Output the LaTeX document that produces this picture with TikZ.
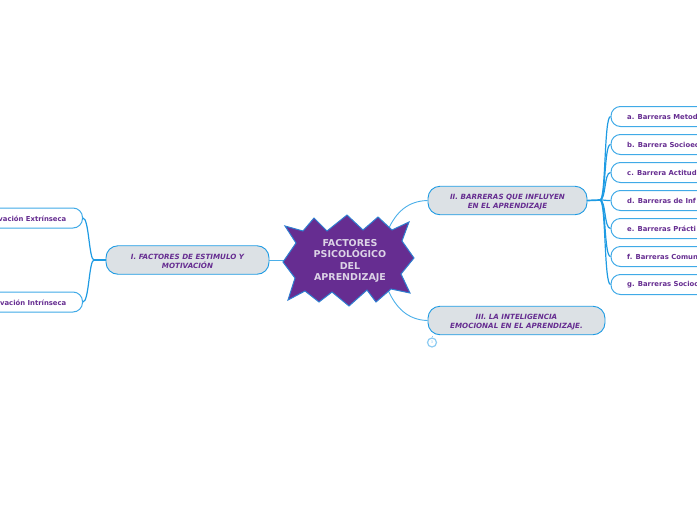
\documentclass[tikz,border=0pt]{standalone}
\usepackage{fontspec}
\setmainfont{DejaVu Sans}
\definecolor{linkblue}{HTML}{1E9BE3}
\definecolor{softblue}{HTML}{8CCBF2}
\definecolor{deeppurple}{HTML}{662D91}
\definecolor{nodegrey}{HTML}{DCE1E5}
\definecolor{starline}{HTML}{2F7FD0}
\definecolor{startext}{HTML}{DCD3E6}
\tikzset{
  mainbox/.style={draw=linkblue,line width=0.9pt,fill=nodegrey,rounded corners=12pt,minimum height=28.5pt,inner sep=0pt},
  maintext/.style={text=deeppurple,align=center,inner sep=0pt,font=\fontsize{7.15}{9}\selectfont\bfseries\itshape},
  leafbox/.style={draw=linkblue!85!white,line width=1pt,fill=white,rounded corners=9.5pt,minimum height=20pt,inner sep=0pt},
  leaftext/.style={text=deeppurple,inner sep=0pt,font=\fontsize{6.85}{8}\selectfont\bfseries},
  trunk/.style={draw=linkblue,line width=1.7pt,line cap=round},
  branch/.style={draw=linkblue,line width=1.2pt},
  thinlink/.style={draw=linkblue!80!white,line width=0.9pt},
}
\begin{document}
\begin{tikzpicture}[x=1pt,y=-1pt]
\useasboundingbox (0,0) rectangle (697,520);
\clip (0,0) rectangle (697,520);
% anchors
\coordinate (starW) at (290,260);
\coordinate (starNE) at (388,230);
\coordinate (starSE) at (388,290);
\coordinate (junctionL) at (94,260);
\coordinate (junctionR) at (600,200);
% main nodes
\node[mainbox,minimum width=163pt] (one) at (187.5,260) {};
\node[mainbox,minimum width=159pt] (two) at (507.5,200.5) {};
\node[mainbox,minimum width=177pt] (three) at (516.5,320.5) {};
\node[maintext] (tone) at (187.5,261.2) {I. FACTORES DE ESTIMULO Y\\MOTIVACIÓN};
\node[maintext] (ttwo) at (507.5,201.7) {II. BARRERAS QUE INFLUYEN\\EN EL APRENDIZAJE};
\node[maintext] (tthree) at (516.5,321.7) {III. LA INTELIGENCIA\\EMOCIONAL EN EL APRENDIZAJE.};
% leaf boxes
\node[leafbox,minimum width=112pt] (lext) at (26.5,218) {};
\node[leafbox,minimum width=112pt] (lint) at (26.5,302) {};
\node[leafbox,minimum width=120pt] (ra) at (671,116.5) {};
\node[leafbox,minimum width=120pt] (rb) at (671,144.5) {};
\node[leafbox,minimum width=120pt] (rc) at (671,172.5) {};
\node[leafbox,minimum width=120pt] (rd) at (671,200.5) {};
\node[leafbox,minimum width=120pt] (re) at (671,228.5) {};
\node[leafbox,minimum width=120pt] (rf) at (671,256.5) {};
\node[leafbox,minimum width=120pt] (rg) at (671,284.5) {};
% leaf text
\node[leaftext,anchor=east] (tlext) at (66.5,218.5) {vación Extrínseca};
\node[leaftext,anchor=east] (tlint) at (66.5,302.5) {vación Intrínseca};
\node[leaftext,anchor=west] (tra) at (627,117) {a. Barreras Metod};
\node[leaftext,anchor=west] (trb) at (627,145) {b. Barrera Socioec};
\node[leaftext,anchor=west] (trc) at (627,173) {c. Barrera Actitud};
\node[leaftext,anchor=west] (trd) at (627,201) {d. Barreras de Inf};
\node[leaftext,anchor=west] (tre) at (627,229) {e. Barreras Prácti};
\node[leaftext,anchor=west] (trf) at (627,257) {f. Barreras Comun};
\node[leaftext,anchor=west] (trg) at (627,285) {g. Barreras Socioc};
% connectors
\draw[thinlink] (starW) -- (one.east);
\draw[thinlink] (starNE) .. controls (396,212) and (408,201) .. (two.west);
\draw[thinlink] (starSE) .. controls (396,308) and (408,320) .. (three.west);
\draw[trunk] (one.west) -- (junctionL);
\draw[trunk] (two.east) -- (junctionR);
\foreach \n/\cy in {lext/218,lint/302}{
  \draw[branch] (junctionL) .. controls (89,260) and (89,\cy) .. (\n.east);
}
\foreach \n/\cy in {ra/116.5,rb/144.5,rc/172.5,rd/200.5,re/228.5,rf/256.5,rg/284.5}{
  \draw[branch] (junctionR) .. controls (606,200) and (604,\cy) .. (\n.west);
}
% central star
\path[fill=deeppurple,draw=starline,line width=1pt,line join=miter]
 (285,226)--(303,231)--(314,218)--(327,231)--(347,215)--(363,230)--(378,217)--(392,230)--(409,222)--(402,241)--(414,258)--(401,274)--(410,293)--(391,289)--(376,302)--(367,290)--(349,306)--(332,292)--(319,302)--(305,291)--(288,300)--(295,278)--(283,262)--(296,243)--cycle;
\node[text=startext,align=center,inner sep=0pt,font=\fontsize{9.5}{11.2}\selectfont\bfseries] (center) at (350,261) {FACTORES\\PSICOLÓGICO\\DEL\\APRENDIZAJE};
% collapsed marker
\node[circle,draw=softblue,line width=1.2pt,minimum size=9pt,inner sep=0pt,fill=white,text=softblue,font=\fontsize{3.5}{4}\selectfont] (marker) at (432,342.5) {3};
\coordinate (markertop) at (432,336);
\draw[softblue,line width=0.7pt] (markertop) -- (marker.north);
\end{tikzpicture}
\end{document}
